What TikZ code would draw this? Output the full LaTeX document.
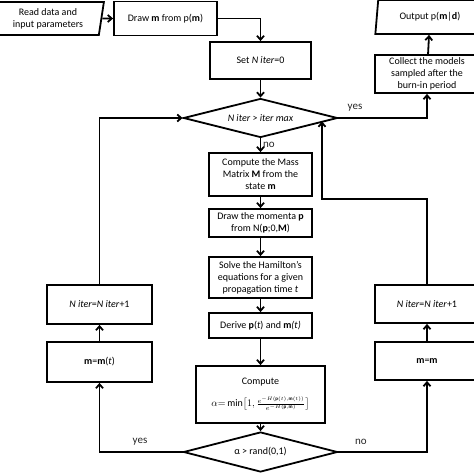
\documentclass[tikz,border=0pt]{standalone}
\usepackage{fontspec}
\setmainfont{Carlito}
\usetikzlibrary{shapes.geometric,arrows.meta}

\begin{document}
\begin{tikzpicture}[x=1pt, y=-1pt,
    block/.style={
      draw, line width=1.8pt, align=center, inner sep=1pt,
      minimum width=103pt, font=\fontsize{10}{12}\selectfont,
    },
    decide/.style={
      diamond, draw, line width=1.8pt, aspect=4, inner sep=0pt,
      minimum width=154pt, minimum height=39pt, font=\fontsize{10}{12}\selectfont,
    },
    io/.style={
      trapezium, trapezium left angle=81, trapezium right angle=99,
      trapezium stretches=true, draw, line width=1.8pt, align=center,
      inner sep=1pt, font=\fontsize{10}{12}\selectfont,
    },
    link/.style={line width=1.8pt, -{Straight Barb[length=4pt,width=7pt]}},
    lbl/.style={font=\fontsize{11}{13}\selectfont, text=black!85},
  ]
  \def\mid{260.5}    % centre of the main column
  \useasboundingbox (0,0) rectangle (474,474);

  % ===== top row =====
  \node[io, minimum width=112pt, minimum height=33pt] (read) at (48,18.5)
    {Read data and\\input parameters};
  \node[block, minimum height=34pt] (draw) at (165.5,18.5)
    {Draw \textbf{m} from p(\textbf{m})};
  \node[io, minimum width=110pt, minimum height=34pt] (output) at (430,17)
    {Output p(\textbf{m}|\textbf{d})};
  \node[block, minimum width=104pt, minimum height=38pt] (collect) at (427,74)
    {Collect the models\\sampled after the\\burn-in period};

  % ===== main column =====
  \node[block, minimum width=101pt, minimum height=37pt] (set) at (\mid,60.5)
    {Set \textit{N iter}=0};
  \node[decide] (test1) at (\mid,118) {\textit{N iter} > \textit{iter max}};
  \node[block, minimum height=43pt] (mass) at (\mid,174.5)
    {Compute the Mass\\Matrix \textbf{M} from the\\state \textbf{m}};
  \node[block, minimum height=28pt] (momenta) at (\mid,223)
    {Draw the momenta \textbf{p}\\from N(\textbf{p};0,\textbf{M})};
  \node[block, minimum height=41pt] (solve) at (\mid,277.5)
    {Solve the Hamilton's\\equations for a given\\propagation time \textit{t}};
  \node[block, minimum height=25pt] (derive) at (\mid,325.5)
    {Derive \textbf{p}(\textit{t}) and \textbf{m}\textit{(t)}};
  \node[block, minimum width=129pt, minimum height=57pt] (alpha) at (\mid,394.5)
    {Compute\\[9pt]
     $\alpha{=}\min\bigl[1,\frac{e^{-H(\mathbf{p}(t),\mathbf{m}(t))}}{e^{-H(\mathbf{p},\mathbf{m})}}\bigr]$};
  \node[decide, minimum height=40pt] (test2) at (\mid,452) {α > rand(0,1)};

  % ===== side columns =====
  \node[block, minimum width=105pt, minimum height=39pt] (lnext) at (99.5,304.5)
    {\textit{N iter}=\textit{N iter}+1};
  \node[block, minimum width=105pt, minimum height=40pt] (lmove) at (99.5,362)
    {\textbf{m}=\textbf{m}(\textit{t})};
  \node[block, minimum width=104pt, minimum height=38pt] (rnext) at (427,304)
    {\textit{N iter}=\textit{N iter}+1};
  \node[block, minimum width=104pt, minimum height=38pt] (rkeep) at (427,361)
    {\textbf{m}=\textbf{m}};

  % ===== connectors =====
  \draw[link] (read) -- (draw);
  \draw[link] (draw.east) -| (set.north);
  \draw[link] (set) -- (test1);
  \draw[link] (test1) -- (mass);
  \foreach \a/\b in {mass/momenta, momenta/solve, solve/derive, derive/alpha, alpha/test2}
    \draw[link] (\a) -- (\b);
  \draw[link] (test1.east) -| (collect.south);
  \draw[link] (collect) -- (output);

  \draw[link] (test2.west) -| (lmove.south);
  \draw[link] (test2.east) -| (rkeep.south);
  \draw[link] (lmove) -- (lnext);
  \draw[link] (rkeep) -- (rnext);
  \draw[link] (lnext.north) |- (test1.west);
  \coordinate (rturn) at (322,199);
  \draw[link] (rnext.north) |- (rturn) -- (rturn |- test1.-3.4);

  % ===== branch labels =====
  \node[lbl] (no1)  at (269,145) {no};
  \node[lbl] (yes1) at (355,108) {yes};
  \node[lbl] (yes2) at (140,442) {yes};
  \node[lbl] (no2)  at (361,442) {no};
\end{tikzpicture}
\end{document}
